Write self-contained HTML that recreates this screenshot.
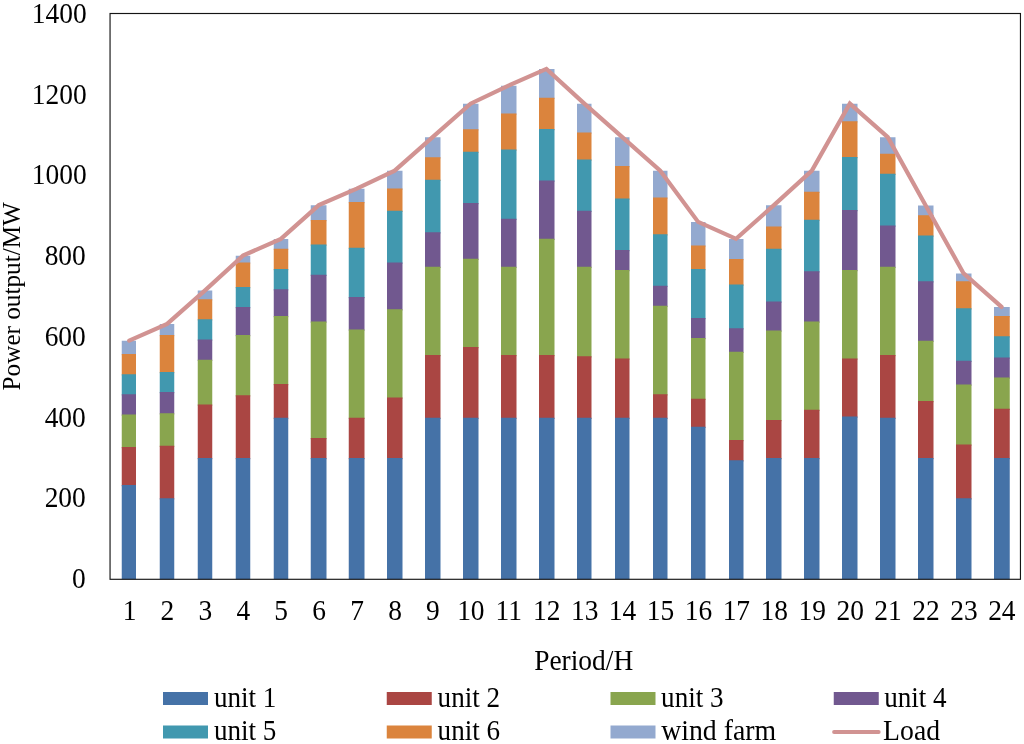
<!DOCTYPE html>
<html lang="en"><head><meta charset="utf-8"><title>Power output per period</title>
<style>html,body{margin:0;padding:0;background:#fff;}body{width:1024px;height:744px;overflow:hidden;}svg{display:block;}text{font-family:"Liberation Serif","Times New Roman",serif;fill:#000;}</style>
</head><body>
<svg width="1024" height="744" viewBox="0 0 1024 744">
<rect x="0" y="0" width="1024" height="744" fill="#ffffff"/>
<g shape-rendering="auto">
<rect x="121.75" y="340.75" width="14.25" height="14.45" fill="#93A9CF"/>
<rect x="121.75" y="354.00" width="14.25" height="21.45" fill="#DB843D"/>
<rect x="121.75" y="374.25" width="14.25" height="21.20" fill="#4198AF"/>
<rect x="121.75" y="394.25" width="14.25" height="21.45" fill="#71588F"/>
<rect x="121.75" y="414.50" width="14.25" height="33.70" fill="#89A54E"/>
<rect x="121.75" y="447.00" width="14.25" height="39.20" fill="#AA4643"/>
<rect x="121.75" y="485.00" width="14.25" height="94.25" fill="#4572A7"/>
<rect x="159.75" y="324.00" width="14.50" height="12.20" fill="#93A9CF"/>
<rect x="159.75" y="335.00" width="14.50" height="38.20" fill="#DB843D"/>
<rect x="159.75" y="372.00" width="14.50" height="21.20" fill="#4198AF"/>
<rect x="159.75" y="392.00" width="14.50" height="22.45" fill="#71588F"/>
<rect x="159.75" y="413.25" width="14.50" height="33.70" fill="#89A54E"/>
<rect x="159.75" y="445.75" width="14.50" height="53.70" fill="#AA4643"/>
<rect x="159.75" y="498.25" width="14.50" height="81.00" fill="#4572A7"/>
<rect x="197.75" y="290.50" width="14.50" height="9.95" fill="#93A9CF"/>
<rect x="197.75" y="299.25" width="14.50" height="21.20" fill="#DB843D"/>
<rect x="197.75" y="319.25" width="14.50" height="21.45" fill="#4198AF"/>
<rect x="197.75" y="339.50" width="14.50" height="21.45" fill="#71588F"/>
<rect x="197.75" y="359.75" width="14.50" height="45.95" fill="#89A54E"/>
<rect x="197.75" y="404.50" width="14.50" height="54.70" fill="#AA4643"/>
<rect x="197.75" y="458.00" width="14.50" height="121.25" fill="#4572A7"/>
<rect x="235.75" y="255.75" width="14.50" height="7.95" fill="#93A9CF"/>
<rect x="235.75" y="262.50" width="14.50" height="25.70" fill="#DB843D"/>
<rect x="235.75" y="287.00" width="14.50" height="21.20" fill="#4198AF"/>
<rect x="235.75" y="307.00" width="14.50" height="29.20" fill="#71588F"/>
<rect x="235.75" y="335.00" width="14.50" height="61.45" fill="#89A54E"/>
<rect x="235.75" y="395.25" width="14.50" height="63.95" fill="#AA4643"/>
<rect x="235.75" y="458.00" width="14.50" height="121.25" fill="#4572A7"/>
<rect x="273.75" y="239.00" width="14.50" height="10.95" fill="#93A9CF"/>
<rect x="273.75" y="248.75" width="14.50" height="21.45" fill="#DB843D"/>
<rect x="273.75" y="269.00" width="14.50" height="21.45" fill="#4198AF"/>
<rect x="273.75" y="289.25" width="14.50" height="27.95" fill="#71588F"/>
<rect x="273.75" y="316.00" width="14.50" height="69.20" fill="#89A54E"/>
<rect x="273.75" y="384.00" width="14.50" height="34.95" fill="#AA4643"/>
<rect x="273.75" y="417.75" width="14.50" height="161.50" fill="#4572A7"/>
<rect x="310.75" y="205.25" width="15.75" height="15.95" fill="#93A9CF"/>
<rect x="310.75" y="220.00" width="15.75" height="25.70" fill="#DB843D"/>
<rect x="310.75" y="244.50" width="15.75" height="31.45" fill="#4198AF"/>
<rect x="310.75" y="274.75" width="15.75" height="47.95" fill="#71588F"/>
<rect x="310.75" y="321.50" width="15.75" height="117.70" fill="#89A54E"/>
<rect x="310.75" y="438.00" width="15.75" height="21.20" fill="#AA4643"/>
<rect x="310.75" y="458.00" width="15.75" height="121.25" fill="#4572A7"/>
<rect x="348.75" y="188.75" width="15.75" height="14.45" fill="#93A9CF"/>
<rect x="348.75" y="202.00" width="15.75" height="46.95" fill="#DB843D"/>
<rect x="348.75" y="247.75" width="15.75" height="50.45" fill="#4198AF"/>
<rect x="348.75" y="297.00" width="15.75" height="33.70" fill="#71588F"/>
<rect x="348.75" y="329.50" width="15.75" height="89.45" fill="#89A54E"/>
<rect x="348.75" y="417.75" width="15.75" height="41.45" fill="#AA4643"/>
<rect x="348.75" y="458.00" width="15.75" height="121.25" fill="#4572A7"/>
<rect x="387.00" y="170.75" width="15.50" height="18.95" fill="#93A9CF"/>
<rect x="387.00" y="188.50" width="15.50" height="23.45" fill="#DB843D"/>
<rect x="387.00" y="210.75" width="15.50" height="52.95" fill="#4198AF"/>
<rect x="387.00" y="262.50" width="15.50" height="47.95" fill="#71588F"/>
<rect x="387.00" y="309.25" width="15.50" height="89.45" fill="#89A54E"/>
<rect x="387.00" y="397.50" width="15.50" height="61.70" fill="#AA4643"/>
<rect x="387.00" y="458.00" width="15.50" height="121.25" fill="#4572A7"/>
<rect x="425.00" y="137.25" width="15.50" height="21.20" fill="#93A9CF"/>
<rect x="425.00" y="157.25" width="15.50" height="23.70" fill="#DB843D"/>
<rect x="425.00" y="179.75" width="15.50" height="53.70" fill="#4198AF"/>
<rect x="425.00" y="232.25" width="15.50" height="35.70" fill="#71588F"/>
<rect x="425.00" y="266.75" width="15.50" height="89.45" fill="#89A54E"/>
<rect x="425.00" y="355.00" width="15.50" height="63.95" fill="#AA4643"/>
<rect x="425.00" y="417.75" width="15.50" height="161.50" fill="#4572A7"/>
<rect x="463.00" y="103.75" width="15.50" height="26.70" fill="#93A9CF"/>
<rect x="463.00" y="129.25" width="15.50" height="23.70" fill="#DB843D"/>
<rect x="463.00" y="151.75" width="15.50" height="52.45" fill="#4198AF"/>
<rect x="463.00" y="203.00" width="15.50" height="56.95" fill="#71588F"/>
<rect x="463.00" y="258.75" width="15.50" height="89.45" fill="#89A54E"/>
<rect x="463.00" y="347.00" width="15.50" height="71.95" fill="#AA4643"/>
<rect x="463.00" y="417.75" width="15.50" height="161.50" fill="#4572A7"/>
<rect x="501.00" y="85.75" width="15.50" height="28.95" fill="#93A9CF"/>
<rect x="501.00" y="113.50" width="15.50" height="37.20" fill="#DB843D"/>
<rect x="501.00" y="149.50" width="15.50" height="70.45" fill="#4198AF"/>
<rect x="501.00" y="218.75" width="15.50" height="49.20" fill="#71588F"/>
<rect x="501.00" y="266.75" width="15.50" height="89.45" fill="#89A54E"/>
<rect x="501.00" y="355.00" width="15.50" height="63.95" fill="#AA4643"/>
<rect x="501.00" y="417.75" width="15.50" height="161.50" fill="#4572A7"/>
<rect x="539.00" y="69.00" width="15.50" height="29.95" fill="#93A9CF"/>
<rect x="539.00" y="97.75" width="15.50" height="32.45" fill="#DB843D"/>
<rect x="539.00" y="129.00" width="15.50" height="52.70" fill="#4198AF"/>
<rect x="539.00" y="180.50" width="15.50" height="59.45" fill="#71588F"/>
<rect x="539.00" y="238.75" width="15.50" height="117.45" fill="#89A54E"/>
<rect x="539.00" y="355.00" width="15.50" height="63.95" fill="#AA4643"/>
<rect x="539.00" y="417.75" width="15.50" height="161.50" fill="#4572A7"/>
<rect x="577.00" y="103.75" width="14.50" height="29.95" fill="#93A9CF"/>
<rect x="577.00" y="132.50" width="14.50" height="28.20" fill="#DB843D"/>
<rect x="577.00" y="159.50" width="14.50" height="52.45" fill="#4198AF"/>
<rect x="577.00" y="210.75" width="14.50" height="57.20" fill="#71588F"/>
<rect x="577.00" y="266.75" width="14.50" height="90.70" fill="#89A54E"/>
<rect x="577.00" y="356.25" width="14.50" height="62.70" fill="#AA4643"/>
<rect x="577.00" y="417.75" width="14.50" height="161.50" fill="#4572A7"/>
<rect x="615.00" y="137.25" width="14.50" height="29.95" fill="#93A9CF"/>
<rect x="615.00" y="166.00" width="14.50" height="33.70" fill="#DB843D"/>
<rect x="615.00" y="198.50" width="14.50" height="52.70" fill="#4198AF"/>
<rect x="615.00" y="250.00" width="14.50" height="21.20" fill="#71588F"/>
<rect x="615.00" y="270.00" width="14.50" height="89.70" fill="#89A54E"/>
<rect x="615.00" y="358.50" width="14.50" height="60.45" fill="#AA4643"/>
<rect x="615.00" y="417.75" width="14.50" height="161.50" fill="#4572A7"/>
<rect x="653.00" y="170.75" width="14.50" height="27.95" fill="#93A9CF"/>
<rect x="653.00" y="197.50" width="14.50" height="37.95" fill="#DB843D"/>
<rect x="653.00" y="234.25" width="14.50" height="52.70" fill="#4198AF"/>
<rect x="653.00" y="285.75" width="14.50" height="21.20" fill="#71588F"/>
<rect x="653.00" y="305.75" width="14.50" height="89.70" fill="#89A54E"/>
<rect x="653.00" y="394.25" width="14.50" height="24.70" fill="#AA4643"/>
<rect x="653.00" y="417.75" width="14.50" height="161.50" fill="#4572A7"/>
<rect x="691.00" y="222.00" width="14.50" height="24.70" fill="#93A9CF"/>
<rect x="691.00" y="245.50" width="14.50" height="24.70" fill="#DB843D"/>
<rect x="691.00" y="269.00" width="14.50" height="50.20" fill="#4198AF"/>
<rect x="691.00" y="318.00" width="14.50" height="21.20" fill="#71588F"/>
<rect x="691.00" y="338.00" width="14.50" height="61.95" fill="#89A54E"/>
<rect x="691.00" y="398.75" width="14.50" height="29.20" fill="#AA4643"/>
<rect x="691.00" y="426.75" width="14.50" height="152.50" fill="#4572A7"/>
<rect x="729.00" y="239.00" width="14.50" height="21.20" fill="#93A9CF"/>
<rect x="729.00" y="259.00" width="14.50" height="26.70" fill="#DB843D"/>
<rect x="729.00" y="284.50" width="14.50" height="44.95" fill="#4198AF"/>
<rect x="729.00" y="328.25" width="14.50" height="24.70" fill="#71588F"/>
<rect x="729.00" y="351.75" width="14.50" height="89.45" fill="#89A54E"/>
<rect x="729.00" y="440.00" width="14.50" height="21.45" fill="#AA4643"/>
<rect x="729.00" y="460.25" width="14.50" height="119.00" fill="#4572A7"/>
<rect x="766.00" y="205.25" width="15.50" height="22.45" fill="#93A9CF"/>
<rect x="766.00" y="226.50" width="15.50" height="23.45" fill="#DB843D"/>
<rect x="766.00" y="248.75" width="15.50" height="53.95" fill="#4198AF"/>
<rect x="766.00" y="301.50" width="15.50" height="30.20" fill="#71588F"/>
<rect x="766.00" y="330.50" width="15.50" height="90.70" fill="#89A54E"/>
<rect x="766.00" y="420.00" width="15.50" height="39.20" fill="#AA4643"/>
<rect x="766.00" y="458.00" width="15.50" height="121.25" fill="#4572A7"/>
<rect x="804.00" y="170.75" width="15.50" height="22.20" fill="#93A9CF"/>
<rect x="804.00" y="191.75" width="15.50" height="29.20" fill="#DB843D"/>
<rect x="804.00" y="219.75" width="15.50" height="52.70" fill="#4198AF"/>
<rect x="804.00" y="271.25" width="15.50" height="51.45" fill="#71588F"/>
<rect x="804.00" y="321.50" width="15.50" height="89.45" fill="#89A54E"/>
<rect x="804.00" y="409.75" width="15.50" height="49.45" fill="#AA4643"/>
<rect x="804.00" y="458.00" width="15.50" height="121.25" fill="#4572A7"/>
<rect x="842.00" y="103.75" width="15.50" height="18.70" fill="#93A9CF"/>
<rect x="842.00" y="121.25" width="15.50" height="36.95" fill="#DB843D"/>
<rect x="842.00" y="157.00" width="15.50" height="54.20" fill="#4198AF"/>
<rect x="842.00" y="210.00" width="15.50" height="61.20" fill="#71588F"/>
<rect x="842.00" y="270.00" width="15.50" height="89.70" fill="#89A54E"/>
<rect x="842.00" y="358.50" width="15.50" height="59.20" fill="#AA4643"/>
<rect x="842.00" y="416.50" width="15.50" height="162.75" fill="#4572A7"/>
<rect x="880.00" y="137.25" width="15.50" height="17.70" fill="#93A9CF"/>
<rect x="880.00" y="153.75" width="15.50" height="21.20" fill="#DB843D"/>
<rect x="880.00" y="173.75" width="15.50" height="52.95" fill="#4198AF"/>
<rect x="880.00" y="225.50" width="15.50" height="42.45" fill="#71588F"/>
<rect x="880.00" y="266.75" width="15.50" height="89.45" fill="#89A54E"/>
<rect x="880.00" y="355.00" width="15.50" height="63.95" fill="#AA4643"/>
<rect x="880.00" y="417.75" width="15.50" height="161.50" fill="#4572A7"/>
<rect x="918.00" y="205.50" width="15.50" height="10.95" fill="#93A9CF"/>
<rect x="918.00" y="215.25" width="15.50" height="21.45" fill="#DB843D"/>
<rect x="918.00" y="235.50" width="15.50" height="46.95" fill="#4198AF"/>
<rect x="918.00" y="281.25" width="15.50" height="60.70" fill="#71588F"/>
<rect x="918.00" y="340.75" width="15.50" height="61.45" fill="#89A54E"/>
<rect x="918.00" y="401.00" width="15.50" height="58.20" fill="#AA4643"/>
<rect x="918.00" y="458.00" width="15.50" height="121.25" fill="#4572A7"/>
<rect x="956.00" y="273.50" width="15.50" height="8.95" fill="#93A9CF"/>
<rect x="956.00" y="281.25" width="15.50" height="28.20" fill="#DB843D"/>
<rect x="956.00" y="308.25" width="15.50" height="53.70" fill="#4198AF"/>
<rect x="956.00" y="360.75" width="15.50" height="24.95" fill="#71588F"/>
<rect x="956.00" y="384.50" width="15.50" height="61.20" fill="#89A54E"/>
<rect x="956.00" y="444.50" width="15.50" height="54.95" fill="#AA4643"/>
<rect x="956.00" y="498.25" width="15.50" height="81.00" fill="#4572A7"/>
<rect x="994.00" y="307.00" width="15.75" height="10.20" fill="#93A9CF"/>
<rect x="994.00" y="316.00" width="15.75" height="21.45" fill="#DB843D"/>
<rect x="994.00" y="336.25" width="15.75" height="22.45" fill="#4198AF"/>
<rect x="994.00" y="357.50" width="15.75" height="21.20" fill="#71588F"/>
<rect x="994.00" y="377.50" width="15.75" height="32.45" fill="#89A54E"/>
<rect x="994.00" y="408.75" width="15.75" height="50.45" fill="#AA4643"/>
<rect x="994.00" y="458.00" width="15.75" height="121.25" fill="#4572A7"/>
</g>
<polyline points="129.21,340.65 167.14,323.90 205.07,290.40 242.99,255.65 280.92,238.90 318.85,205.15 356.78,188.65 394.70,170.65 432.63,137.15 470.56,103.65 508.48,85.65 546.41,68.90 584.34,103.65 622.27,137.15 660.19,170.65 698.12,221.90 736.05,238.90 773.97,205.15 811.90,170.65 849.83,103.65 887.76,137.15 925.68,205.40 963.61,273.40 1001.54,306.90" fill="none" stroke="#D19392" stroke-width="4.2" stroke-linejoin="miter" stroke-linecap="round"/>
<rect x="110.05" y="13.5" width="910.4" height="565.8" fill="none" stroke="#151515" stroke-width="1.15"/>
<g font-size="28" text-anchor="end">
<text transform="translate(85.80,588.25) scale(0.98,1.05)" font-size="28" text-anchor="end">0</text>
<text transform="translate(85.80,507.46) scale(0.98,1.05)" font-size="28" text-anchor="end">200</text>
<text transform="translate(85.80,426.68) scale(0.98,1.05)" font-size="28" text-anchor="end">400</text>
<text transform="translate(85.80,345.89) scale(0.98,1.05)" font-size="28" text-anchor="end">600</text>
<text transform="translate(85.80,265.11) scale(0.98,1.05)" font-size="28" text-anchor="end">800</text>
<text transform="translate(86.60,184.32) scale(0.98,1.05)" font-size="28" text-anchor="end">1000</text>
<text transform="translate(86.60,103.54) scale(0.98,1.05)" font-size="28" text-anchor="end">1200</text>
<text transform="translate(86.60,22.75) scale(0.98,1.05)" font-size="28" text-anchor="end">1400</text>
</g>
<g font-size="28" text-anchor="middle">
<text transform="translate(129.51,620.30) scale(0.98,1.05)" font-size="28" text-anchor="middle">1</text>
<text transform="translate(167.44,620.30) scale(0.98,1.05)" font-size="28" text-anchor="middle">2</text>
<text transform="translate(205.37,620.30) scale(0.98,1.05)" font-size="28" text-anchor="middle">3</text>
<text transform="translate(243.29,620.30) scale(0.98,1.05)" font-size="28" text-anchor="middle">4</text>
<text transform="translate(281.22,620.30) scale(0.98,1.05)" font-size="28" text-anchor="middle">5</text>
<text transform="translate(319.15,620.30) scale(0.98,1.05)" font-size="28" text-anchor="middle">6</text>
<text transform="translate(357.08,620.30) scale(0.98,1.05)" font-size="28" text-anchor="middle">7</text>
<text transform="translate(395.00,620.30) scale(0.98,1.05)" font-size="28" text-anchor="middle">8</text>
<text transform="translate(432.93,620.30) scale(0.98,1.05)" font-size="28" text-anchor="middle">9</text>
<text transform="translate(470.86,620.30) scale(0.98,1.05)" font-size="28" text-anchor="middle">10</text>
<text transform="translate(508.78,620.30) scale(0.98,1.05)" font-size="28" text-anchor="middle">11</text>
<text transform="translate(546.71,620.30) scale(0.98,1.05)" font-size="28" text-anchor="middle">12</text>
<text transform="translate(584.64,620.30) scale(0.98,1.05)" font-size="28" text-anchor="middle">13</text>
<text transform="translate(622.57,620.30) scale(0.98,1.05)" font-size="28" text-anchor="middle">14</text>
<text transform="translate(660.49,620.30) scale(0.98,1.05)" font-size="28" text-anchor="middle">15</text>
<text transform="translate(698.42,620.30) scale(0.98,1.05)" font-size="28" text-anchor="middle">16</text>
<text transform="translate(736.35,620.30) scale(0.98,1.05)" font-size="28" text-anchor="middle">17</text>
<text transform="translate(774.27,620.30) scale(0.98,1.05)" font-size="28" text-anchor="middle">18</text>
<text transform="translate(812.20,620.30) scale(0.98,1.05)" font-size="28" text-anchor="middle">19</text>
<text transform="translate(850.13,620.30) scale(0.98,1.05)" font-size="28" text-anchor="middle">20</text>
<text transform="translate(888.06,620.30) scale(0.98,1.05)" font-size="28" text-anchor="middle">21</text>
<text transform="translate(925.98,620.30) scale(0.98,1.05)" font-size="28" text-anchor="middle">22</text>
<text transform="translate(963.91,620.30) scale(0.98,1.05)" font-size="28" text-anchor="middle">23</text>
<text transform="translate(1001.84,620.30) scale(0.98,1.05)" font-size="28" text-anchor="middle">24</text>
</g>
<text transform="translate(583.70,669.70) scale(0.98,1.05)" font-size="28" text-anchor="middle">Period/H</text>
<text transform="translate(20.30,296.30) rotate(-90) scale(1.0,0.98)" font-size="25.2" text-anchor="middle">Power output/MW</text>
<g font-size="28">
<rect x="163" y="692.0" width="45" height="13" fill="#4572A7"/>
<text transform="translate(213.90,707.00) scale(0.968,1.05)" font-size="28" text-anchor="start">unit 1</text>
<rect x="386.75" y="692.0" width="45" height="13" fill="#AA4643"/>
<text transform="translate(437.60,707.00) scale(0.968,1.05)" font-size="28" text-anchor="start">unit 2</text>
<rect x="610.5" y="692.0" width="45" height="13" fill="#89A54E"/>
<text transform="translate(661.10,707.00) scale(0.968,1.05)" font-size="28" text-anchor="start">unit 3</text>
<rect x="833.75" y="692.0" width="45" height="13" fill="#71588F"/>
<text transform="translate(884.20,707.00) scale(0.968,1.05)" font-size="28" text-anchor="start">unit 4</text>
<rect x="163" y="725.5" width="45" height="13" fill="#4198AF"/>
<text transform="translate(213.90,740.00) scale(0.968,1.05)" font-size="28" text-anchor="start">unit 5</text>
<rect x="386.75" y="725.5" width="45" height="13" fill="#DB843D"/>
<text transform="translate(437.60,740.00) scale(0.968,1.05)" font-size="28" text-anchor="start">unit 6</text>
<rect x="610.5" y="725.5" width="45" height="13" fill="#93A9CF"/>
<text transform="translate(661.20,740.00) scale(0.992,1.05)" font-size="28" text-anchor="start">wind farm</text>
<line x1="834.05" y1="732" x2="878.75" y2="732" stroke="#D19392" stroke-width="3.8" stroke-linecap="round"/>
<text transform="translate(883.10,740.00) scale(0.99,1.05)" font-size="28" text-anchor="start">Load</text>
</g>
</svg>
</body></html>
